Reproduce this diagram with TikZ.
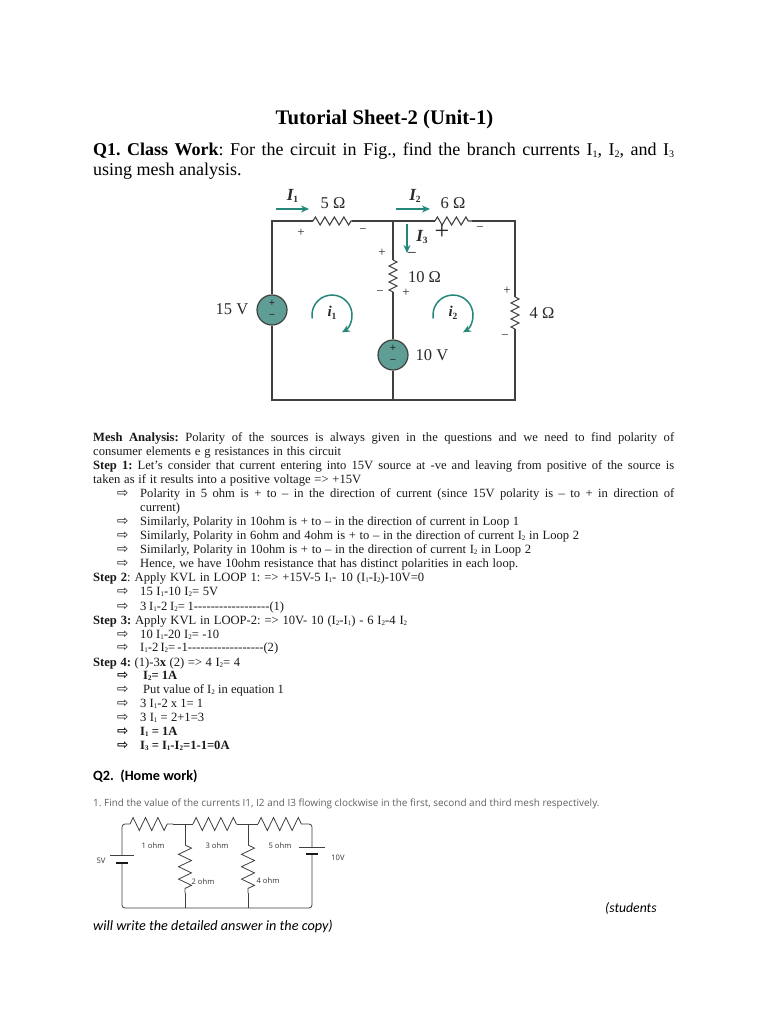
\documentclass[tikz,border=0pt]{standalone}
\usepackage{fontspec}
\setmainfont{Liberation Serif}
\newfontfamily\calf{Carlito}
\newfontfamily\osans{Open Sans}
\newfontfamily\djv{DejaVu Sans}
\usetikzlibrary{arrows.meta,decorations.pathmorphing}
\frenchspacing
\definecolor{wirec}{HTML}{404040}
\definecolor{teal1}{HTML}{23877A}
\definecolor{srcfill}{HTML}{5F9E94}
\definecolor{labc}{HTML}{2A2A2A}
\newcommand{\lw}[1]{\raisebox{-1.5pt}{\fontsize{7}{7}\selectfont #1}}
\newcommand{\lwb}[1]{\raisebox{-1.5pt}{\fontsize{7}{7}\selectfont\bfseries #1}}
\newcommand{\lwc}[1]{\raisebox{-2.5pt}{\fontsize{9.5}{9.5}\selectfont\upshape #1}}
\newcommand{\arw}{{\djv\fontsize{13.5}{13.5}\selectfont ⇨}}
\newcommand{\arwb}{{\djv\bfseries\fontsize{13.5}{13.5}\selectfont ⇨}}
\newcommand{\dsh}{{-}{-}{-}{-}{-}{-}}
\tikzset{
  txt/.style={anchor=base west,inner sep=0pt,font=\fontsize{12.6}{14}\selectfont,text=black!90},
  wire/.style={draw=wirec,line width=1.3pt},
  res/.style={draw=wirec,line width=1.1pt,decorate,decoration={zigzag,segment length=9.5pt,amplitude=4pt}},
  resv/.style={draw=wirec,line width=1.1pt,decorate,decoration={zigzag,segment length=8pt,amplitude=4pt}},
  curr/.style={draw=teal1,line width=1.3pt,-{Stealth[length=8pt,width=7pt]}},
  src/.style={circle,draw=wirec,line width=1.2pt,fill=srcfill,minimum size=30pt,inner sep=0pt},
  lab/.style={inner sep=0pt,text=labc,font=\fontsize{16.5}{18}\selectfont},
  ilab/.style={inner sep=0pt,text=labc,font=\fontsize{17}{17}\selectfont\bfseries\itshape},
  mlab/.style={inner sep=0pt,text=labc,font=\fontsize{15}{15}\selectfont\bfseries\itshape},
  pol/.style={inner sep=0pt,text=black!85,font=\fontsize{13}{14}\selectfont},
  spol/.style={inner sep=0pt,text=black!85,font=\fontsize{11}{11}\selectfont\bfseries},
  wtwo/.style={draw=black!75,line width=.8pt,rounded corners=3pt},
  restwo/.style={draw=black!75,line width=.8pt,decorate,decoration={zigzag,segment length=12.4pt,amplitude=6.5pt}},
  labtwo/.style={inner sep=0pt,text=black!80,font=\osans\fontsize{7.6}{8}\selectfont},
}
\newcommand{\tlin}[3]{\node[txt] (#1) at (93,#2+4) {\hbox to 581pt{#3}};}
\newcommand{\tfre}[4]{\node[txt] (#1) at (93,#2+4) {\hbox to #3pt{#4}};}
\newcommand{\blin}[4]{\node[txt] (#1a) at (117,#2+4) {\arw}; \node[txt] (#1) at (140,#2+4) {\hbox to #3pt{#4}};}
\newcommand{\bbol}[3]{\node[txt] (#1a) at (117,#2+4) {\arwb}; \node[txt] (#1) at (140,#2+4) {\bfseries #3};}
\begin{document}
\begin{tikzpicture}[x=1pt,y=-1pt]
\useasboundingbox (0,0) rectangle (768,1024);
\fill[white] (0,0) rectangle (768,1024);

% Heading
\node[anchor=base,inner sep=0pt,font=\fontsize{20.7}{22}\selectfont\bfseries] (title) at (384.5,125) {Tutorial Sheet-2 (Unit-1)};
\node[anchor=base west,inner sep=0pt,font=\fontsize{18}{20}\selectfont] (q1a) at (93,156) {\hbox to 581pt{\textbf{Q1. Class Work}: For the circuit in Fig., find the branch currents I\raisebox{-2pt}{\fontsize{10}{10}\selectfont 1}, I\raisebox{-2pt}{\fontsize{10}{10}\selectfont 2}, and I\raisebox{-2pt}{\fontsize{10}{10}\selectfont 3}}};
\node[anchor=base west,inner sep=0pt,font=\fontsize{18}{20}\selectfont] (q1b) at (93,176) {using mesh analysis.};

% Circuit 1
\coordinate (tl) at (272,221); \coordinate (tm) at (393,221); \coordinate (tr) at (515,221);
\coordinate (bl) at (272,400); \coordinate (bm) at (393,400); \coordinate (br) at (515,400);
\coordinate (r5a) at (313,221); \coordinate (r5b) at (352,221);
\coordinate (r6a) at (435,221); \coordinate (r6b) at (472,221);
\coordinate (r10a) at (393,260); \coordinate (r10b) at (393,292);
\coordinate (r4a) at (515,297); \coordinate (r4b) at (515,329);
\node[src] (s15) at (272,310) {};
\node[src] (s10) at (393,355) {};
\draw[wire,line join=miter] (s15) -- (tl) -- (r5a);
\draw[wire] (r5b) -- (tm) -- (r6a);
\draw[wire] (r6b) -- (tr) -- (r4a);
\draw[wire] (r4b) -- (br) -- (bl) -- (s15);
\draw[wire] (tm) -- (r10a);
\draw[wire] (r10b) -- (s10);
\draw[wire] (s10) -- (bm);
\draw[res] (r5a) -- (r5b);
\draw[res] (r6a) -- (r6b);
\draw[resv] (r10a) -- (r10b);
\draw[resv] (r4a) -- (r4b);
\node[spol] (s15p) at (272,303.5) {+};
\node[spol] (s15m) at (272,316.5) {−};
\node[spol] (s10p) at (393,348.5) {+};
\node[spol] (s10m) at (393,361.5) {−};
% Currents
\coordinate (i1a) at (276,209); \coordinate (i1b) at (309,209);
\coordinate (i2a) at (396,209); \coordinate (i2b) at (430,209);
\coordinate (i3a) at (407,224); \coordinate (i3b) at (407,253);
\draw[curr] (i1a) -- (i1b);
\draw[curr] (i2a) -- (i2b);
\draw[curr] (i3a) -- (i3b);
\draw[curr,line width=1.5pt] (312.3,318.5) arc[start angle=170,end angle=420,radius=20];
\draw[curr,line width=1.5pt] (433.3,318.5) arc[start angle=170,end angle=420,radius=20];
% Labels
\node[ilab] (li1) at (292.5,196) {I\lwc{1}};
\node[lab] (l5) at (333,203) {5 Ω};
\node[ilab] (li2) at (415,196) {I\lwc{2}};
\node[lab] (l6) at (453,203) {6 Ω};
\node[ilab] (li3) at (422,237) {I\lwc{3}};
\node[lab] (l10) at (424.5,277) {10 Ω};
\node[lab] (l4) at (542,313) {4 Ω};
\node[lab] (l15v) at (232,309) {15 V};
\node[lab] (l10v) at (432,355) {10 V};
\node[mlab] (lm1) at (332,313) {i\lwc{1}};
\node[mlab] (lm2) at (453,313) {i\lwc{2}};
\node[pol] (p1) at (301,233) {+};
\node[pol] (m1) at (363,231) {−};
\node[pol,font=\fontsize{26}{26}\selectfont\rmfamily] (p2) at (442,232) {+};
\node[pol] (m2) at (480,229) {−};
\node[pol] (p3) at (382,253) {+};
\node[pol,font=\fontsize{17}{17}\selectfont] (m3) at (412,255) {−};
\node[pol] (m4) at (380,293) {−};
\node[pol] (p4) at (406,293) {+};
\node[pol] (p5) at (507,291) {+};
\node[pol] (m5) at (505,337) {−};

% Mesh analysis
\tlin{a1}{437}{\textbf{Mesh Analysis:} Polarity of the sources is always given in the questions and we need to find polarity of}
\tfre{a2}{451}{248}{consumer elements e g resistances in this circuit}
\tlin{a3}{465}{\textbf{Step 1:} Let’s consider that current entering into 15V source at -ve and leaving from positive of the source is}
\tfre{a4}{479}{268}{taken as if it results into a positive voltage => +15V}
\node[txt] (a5a) at (117,497) {\arw};
\node[txt] (a5) at (140,497) {\hbox to 534pt{Polarity in 5 ohm is + to – in the direction of current (since 15V polarity is – to + in direction of}};
\node[txt] (a6) at (140,511) {current)};
\blin{a7}{521}{379}{Similarly, Polarity in 10ohm is + to – in the direction of current in Loop 1}
\blin{a8}{535}{439}{Similarly, Polarity in 6ohm and 4ohm is + to – in the direction of current I\lw{2} in Loop 2}
\blin{a9}{549}{391}{Similarly, Polarity in 10ohm is + to – in the direction of current I\lw{2} in Loop 2}
\blin{a10}{563}{378}{Hence, we have 10ohm resistance that has distinct polarities in each loop.}
\tfre{a11}{577}{331}{\textbf{Step 2}: Apply KVL in LOOP 1: => +15V-5 I\lw{1}- 10 (I\lw{1}-I\lw{2})-10V=0}
\blin{a12}{591}{78}{15 I\lw{1}-10 I\lw{2}= 5V}
\blin{a13}{606}{144}{3 I\lw{1}-2 I\lw{2}= 1\dsh\dsh\dsh(1)}
\tfre{a14}{620}{314}{\textbf{Step 3:} Apply KVL in LOOP-2: => 10V- 10 (I\lw{2}-I\lw{1}) - 6 I\lw{2}-4 I\lw{2}}
\blin{a15}{634}{79}{10 I\lw{1}-20 I\lw{2}= -10}
\blin{a16}{647}{138}{I\lw{1}-2 I\lw{2}= -1\dsh\dsh\dsh(2)}
\tfre{a17}{662}{147}{\textbf{Step 4:} (1)-3\textbf{x} (2) => 4 I\lw{2}= 4}
\node[txt] (a18a) at (117,679) {\arwb};
\node[txt] (a18) at (143,679) {\bfseries I\lwb{2}= 1A};
\node[txt] (a19a) at (117,693) {\arw};
\node[txt] (a19) at (143,693) {Put value of I\lw{2} in equation 1};
\blin{a20}{703}{63}{3 I\lw{1}-2 x 1= 1}
\blin{a21}{717}{64}{3 I\lw{1} = 2+1=3}
\bbol{a22}{731}{I\lwb{1} = 1A}
\bbol{a23}{745}{I\lwb{3} = I\lwb{1}-I\lwb{2}=1-1=0A}

% Q2
\node[anchor=base west,inner sep=0pt,font=\calf\fontsize{14.2}{15}\selectfont\bfseries] (q2) at (93,780) {Q2.\ \ (Home work)};
\node[anchor=base west,inner sep=0pt,text=black!62,font=\osans\fontsize{9.95}{11}\selectfont] (q2t) at (93,806) {1. Find the value of the currents I1, I2 and I3 flowing clockwise in the first, second and third mesh respectively.};

% Circuit 2
\coordinate (c1) at (122,824); \coordinate (c2) at (185,824); \coordinate (c3) at (248,824); \coordinate (c4) at (312,824);
\coordinate (d1) at (122,908); \coordinate (d2) at (185,908); \coordinate (d3) at (248,908); \coordinate (d4) at (312,908);
\coordinate (ra1) at (130,824); \coordinate (rb1) at (173,824);
\coordinate (ra2) at (193,824); \coordinate (rb2) at (237,824);
\coordinate (ra3) at (258,824); \coordinate (rb3) at (302,824);
\coordinate (va1) at (185,845); \coordinate (vb1) at (185,893);
\coordinate (va2) at (248,845); \coordinate (vb2) at (248,893);
\coordinate (bp1) at (122,855); \coordinate (bn1) at (122,863);
\coordinate (bp2) at (312,847); \coordinate (bn2) at (312,854);
\draw[wtwo] (bp1) -- (c1) -- (ra1);
\draw[wtwo] (bn1) -- (d1) -- (d4) -- (bn2);
\draw[wtwo] (rb3) -- (c4) -- (bp2);
\draw[wtwo] (rb1) -- (ra2);
\draw[wtwo] (rb2) -- (ra3);
\draw[wtwo] (c2) -- (va1);
\draw[wtwo] (c3) -- (va2);
\draw[wtwo] (vb1) -- (d2);
\draw[wtwo] (vb2) -- (d3);
\draw[restwo] (ra1) -- (rb1);
\draw[restwo] (ra2) -- (rb2);
\draw[restwo] (ra3) -- (rb3);
\draw[restwo] (va1) -- (vb1);
\draw[restwo] (va2) -- (vb2);
\draw[black!75,line width=.8pt] ([xshift=-12pt]bp1) -- ([xshift=12pt]bp1);
\draw[black!90,line width=2.2pt] ([xshift=-6pt]bn1) -- ([xshift=6pt]bn1);
\draw[black!75,line width=.8pt] ([xshift=-13pt]bp2) -- ([xshift=13pt]bp2);
\draw[black!90,line width=2.2pt] ([xshift=-6pt]bn2) -- ([xshift=6pt]bn2);
\node[labtwo] (t1) at (153,846) {1 ohm};
\node[labtwo] (t3) at (217,846) {3 ohm};
\node[labtwo] (t5) at (280,846) {5 ohm};
\node[labtwo] (t2) at (203,882) {2 ohm};
\node[labtwo] (t4) at (268,881) {4 ohm};
\node[labtwo] (v5) at (101,861) {5V};
\node[labtwo] (v10) at (338,858) {10V};

\node[anchor=base west,inner sep=0pt,font=\calf\itshape\fontsize{13.7}{15}\selectfont] (st1) at (605,912) {(students};
\node[anchor=base west,inner sep=0pt,font=\calf\itshape\fontsize{14.2}{15}\selectfont] (st2) at (93,930) {will write the detailed answer in the copy)};
\end{tikzpicture}
\end{document}
